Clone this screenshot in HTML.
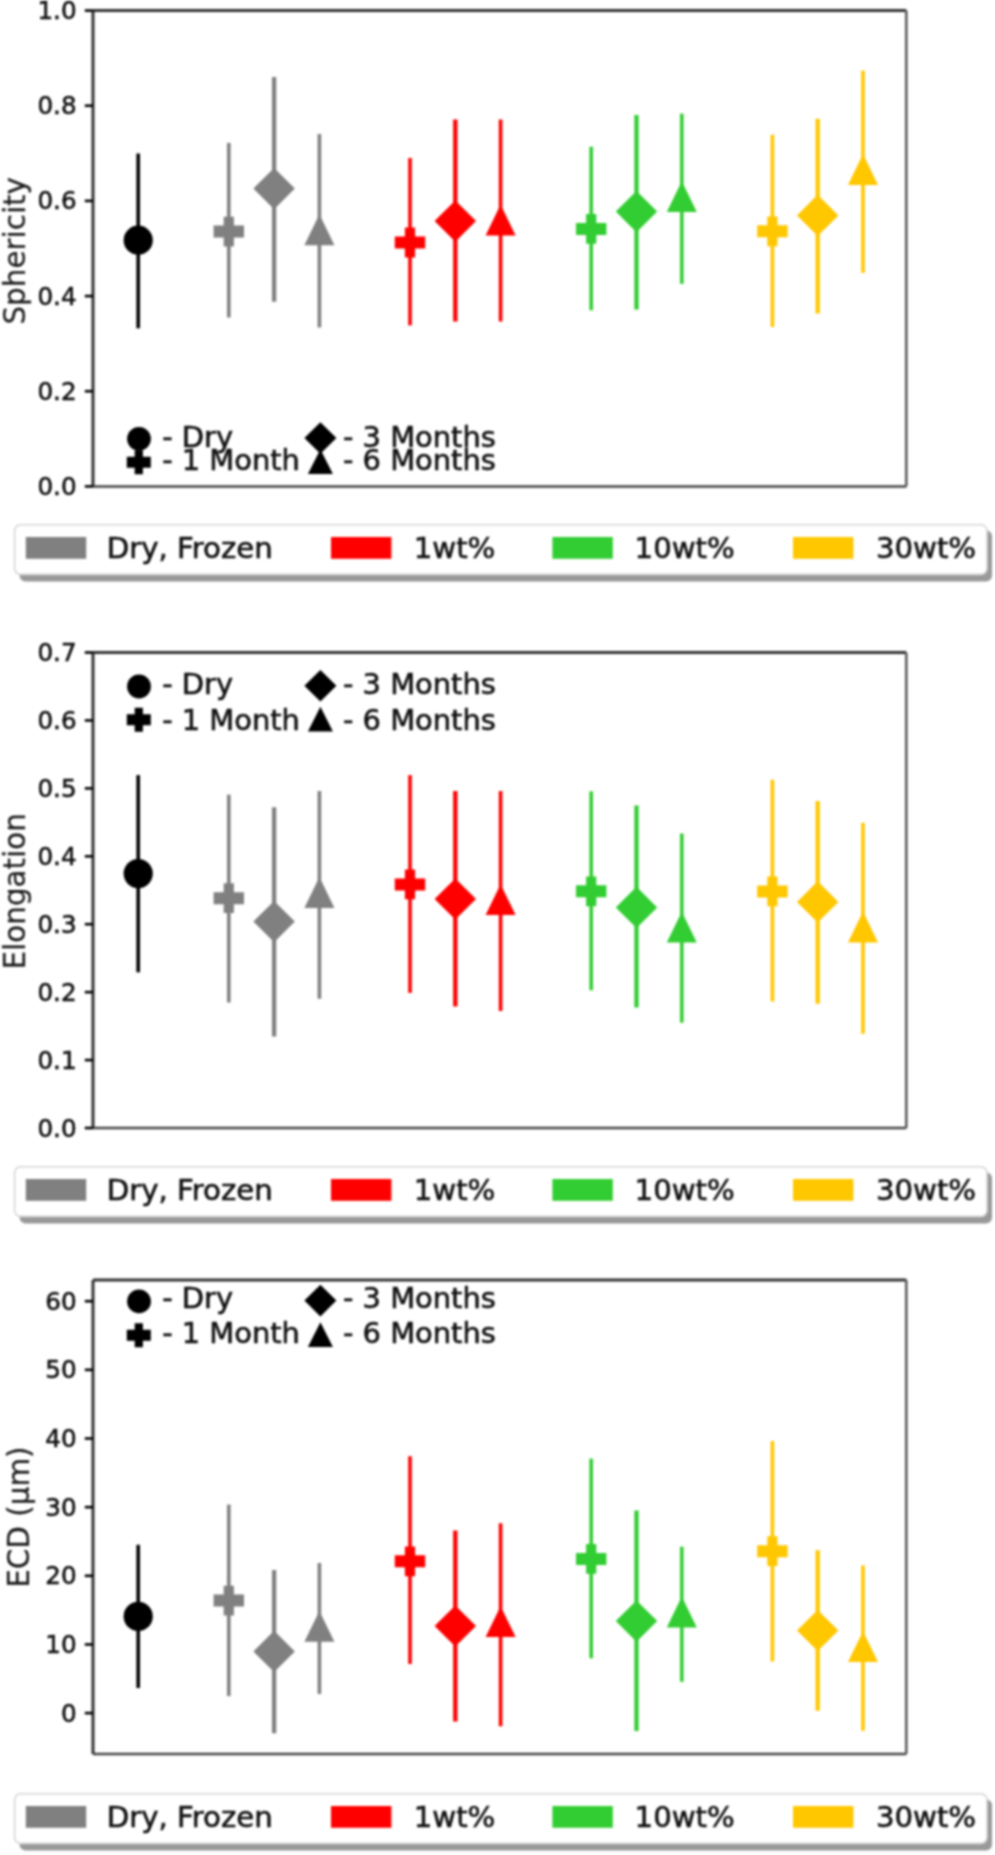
<!DOCTYPE html>
<html><head><meta charset="utf-8"><title>Particle shape metrics</title>
<style>
html,body{margin:0;padding:0;background:#fff;}
body{width:995px;height:1855px;overflow:hidden;}
svg{display:block;filter:blur(1px);}
text{font-family:"DejaVu Sans","Liberation Sans",sans-serif;fill:#111;stroke:#111;stroke-width:0.6px;}
.tk{font-size:24.6px;text-anchor:end;}
.yl{font-size:29.4px;text-anchor:middle;}
.lg{font-size:29.2px;}
.ml{font-size:28.9px;}
.yl{stroke-width:0.2px;fill:#1a1a1a;stroke:#1a1a1a;}
</style></head>
<body>
<svg width="995" height="1855" viewBox="0 0 995 1855">
<rect width="995" height="1855" fill="#fff"/>
<line x1="93.0" y1="10.5" x2="906.3" y2="10.5" stroke="#333" stroke-width="2.8"/>
<line x1="93.0" y1="486.4" x2="906.3" y2="486.4" stroke="#444" stroke-width="2.5"/>
<line x1="906.3" y1="10.5" x2="906.3" y2="486.4" stroke="#555" stroke-width="2.5"/>
<line x1="93.0" y1="10.5" x2="93.0" y2="486.4" stroke="#333" stroke-width="3.0"/>
<line x1="84.8" y1="486.40" x2="93.0" y2="486.40" stroke="#000" stroke-width="2.6"/>
<text x="76.6" y="495.00" class="tk">0.0</text>
<line x1="84.8" y1="391.23" x2="93.0" y2="391.23" stroke="#000" stroke-width="2.6"/>
<text x="76.6" y="399.83" class="tk">0.2</text>
<line x1="84.8" y1="296.06" x2="93.0" y2="296.06" stroke="#000" stroke-width="2.6"/>
<text x="76.6" y="304.66" class="tk">0.4</text>
<line x1="84.8" y1="200.89" x2="93.0" y2="200.89" stroke="#000" stroke-width="2.6"/>
<text x="76.6" y="209.49" class="tk">0.6</text>
<line x1="84.8" y1="105.72" x2="93.0" y2="105.72" stroke="#000" stroke-width="2.6"/>
<text x="76.6" y="114.32" class="tk">0.8</text>
<line x1="84.8" y1="10.55" x2="93.0" y2="10.55" stroke="#000" stroke-width="2.6"/>
<text x="76.6" y="19.15" class="tk">1.0</text>
<text transform="translate(24.5,250.8) rotate(-90)" class="yl">Sphericity</text>
<line x1="138.20" y1="153.50" x2="138.20" y2="328.30" stroke="#000000" stroke-width="3.6"/>
<line x1="228.80" y1="142.90" x2="228.80" y2="317.50" stroke="#808080" stroke-width="3.6"/>
<line x1="274.10" y1="77.00" x2="274.10" y2="301.70" stroke="#808080" stroke-width="4.3"/>
<line x1="319.40" y1="134.00" x2="319.40" y2="327.60" stroke="#808080" stroke-width="3.6"/>
<line x1="410.00" y1="158.00" x2="410.00" y2="325.40" stroke="#ff0000" stroke-width="3.6"/>
<line x1="455.30" y1="119.60" x2="455.30" y2="321.60" stroke="#ff0000" stroke-width="4.3"/>
<line x1="500.60" y1="119.60" x2="500.60" y2="321.60" stroke="#ff0000" stroke-width="3.6"/>
<line x1="591.20" y1="146.70" x2="591.20" y2="310.30" stroke="#32cd32" stroke-width="3.6"/>
<line x1="636.50" y1="115.10" x2="636.50" y2="309.60" stroke="#32cd32" stroke-width="4.3"/>
<line x1="681.80" y1="113.60" x2="681.80" y2="283.90" stroke="#32cd32" stroke-width="3.6"/>
<line x1="772.40" y1="134.70" x2="772.40" y2="327.10" stroke="#ffc700" stroke-width="3.6"/>
<line x1="817.70" y1="118.80" x2="817.70" y2="313.50" stroke="#ffc700" stroke-width="4.3"/>
<line x1="863.00" y1="70.60" x2="863.00" y2="272.80" stroke="#ffc700" stroke-width="3.6"/>
<circle cx="138.20" cy="240.20" r="14.60" fill="#000000"/>
<path d="M223.70,216.70L233.90,216.70L233.90,225.60L244.00,225.60L244.00,237.60L233.90,237.60L233.90,246.50L223.70,246.50L223.70,237.60L213.60,237.60L213.60,225.60L223.70,225.60Z" fill="#808080"/>
<path d="M253.40,188.60L274.10,168.00L294.80,188.60L274.10,209.20Z" fill="#808080"/>
<path d="M319.40,214.30L334.40,245.20L304.40,245.20Z" fill="#808080"/>
<path d="M404.90,227.60L415.10,227.60L415.10,236.50L425.20,236.50L425.20,248.50L415.10,248.50L415.10,257.40L404.90,257.40L404.90,248.50L394.80,248.50L394.80,236.50L404.90,236.50Z" fill="#ff0000"/>
<path d="M434.60,221.10L455.30,200.50L476.00,221.10L455.30,241.70Z" fill="#ff0000"/>
<path d="M500.60,204.60L515.60,235.50L485.60,235.50Z" fill="#ff0000"/>
<path d="M586.10,214.00L596.30,214.00L596.30,222.90L606.40,222.90L606.40,234.90L596.30,234.90L596.30,243.80L586.10,243.80L586.10,234.90L576.00,234.90L576.00,222.90L586.10,222.90Z" fill="#32cd32"/>
<path d="M615.80,211.60L636.50,191.00L657.20,211.60L636.50,232.20Z" fill="#32cd32"/>
<path d="M681.80,181.20L696.80,212.10L666.80,212.10Z" fill="#32cd32"/>
<path d="M767.30,216.40L777.50,216.40L777.50,225.30L787.60,225.30L787.60,237.30L777.50,237.30L777.50,246.20L767.30,246.20L767.30,237.30L757.20,237.30L757.20,225.30L767.30,225.30Z" fill="#ffc700"/>
<path d="M797.00,215.40L817.70,194.80L838.40,215.40L817.70,236.00Z" fill="#ffc700"/>
<path d="M863.00,154.10L878.00,185.00L848.00,185.00Z" fill="#ffc700"/>
<circle cx="139.00" cy="438.80" r="11.90" fill="#000000"/>
<path d="M134.70,450.20L142.90,450.20L142.90,456.70L150.80,456.70L150.80,467.70L142.90,467.70L142.90,474.20L134.70,474.20L134.70,467.70L126.80,467.70L126.80,456.70L134.70,456.70Z" fill="#000000"/>
<path d="M304.40,438.00L320.40,422.20L336.40,438.00L320.40,453.80Z" fill="#000000"/>
<path d="M320.40,449.20L332.90,474.00L307.90,474.00Z" fill="#000000"/>
<text x="162.2" y="446.5" class="ml">- Dry</text>
<text x="162.2" y="470.3" class="ml">- 1 Month</text>
<text x="343" y="446.5" class="ml">- 3 Months</text>
<text x="343" y="470.3" class="ml">- 6 Months</text>
<rect x="19.6" y="530.3" width="972.4" height="51.1" rx="6" fill="#999"/>
<rect x="14.6" y="524.8" width="972.4" height="49.6" rx="6" fill="#fff" stroke="#d6d6d6" stroke-width="1.6"/>
<rect x="25.8" y="537.0" width="60.4" height="21.8" fill="#808080"/>
<rect x="331.0" y="537.0" width="60.4" height="21.8" fill="#ff0000"/>
<rect x="552.4" y="537.0" width="60.4" height="21.8" fill="#32cd32"/>
<rect x="793.0" y="537.0" width="60.4" height="21.8" fill="#ffc700"/>
<text x="106.8" y="557.8" class="lg">Dry, Frozen</text>
<text x="413.7" y="557.8" class="lg">1wt%</text>
<text x="634.6" y="557.8" class="lg">10wt%</text>
<text x="875.9" y="557.8" class="lg">30wt%</text>
<line x1="93.0" y1="652.5" x2="906.3" y2="652.5" stroke="#333" stroke-width="2.8"/>
<line x1="93.0" y1="1128.0" x2="906.3" y2="1128.0" stroke="#444" stroke-width="2.5"/>
<line x1="906.3" y1="652.5" x2="906.3" y2="1128.0" stroke="#555" stroke-width="2.5"/>
<line x1="93.0" y1="652.5" x2="93.0" y2="1128.0" stroke="#333" stroke-width="3.0"/>
<line x1="84.8" y1="1128.00" x2="93.0" y2="1128.00" stroke="#000" stroke-width="2.6"/>
<text x="76.6" y="1136.60" class="tk">0.0</text>
<line x1="84.8" y1="1060.07" x2="93.0" y2="1060.07" stroke="#000" stroke-width="2.6"/>
<text x="76.6" y="1068.67" class="tk">0.1</text>
<line x1="84.8" y1="992.14" x2="93.0" y2="992.14" stroke="#000" stroke-width="2.6"/>
<text x="76.6" y="1000.74" class="tk">0.2</text>
<line x1="84.8" y1="924.21" x2="93.0" y2="924.21" stroke="#000" stroke-width="2.6"/>
<text x="76.6" y="932.81" class="tk">0.3</text>
<line x1="84.8" y1="856.28" x2="93.0" y2="856.28" stroke="#000" stroke-width="2.6"/>
<text x="76.6" y="864.88" class="tk">0.4</text>
<line x1="84.8" y1="788.35" x2="93.0" y2="788.35" stroke="#000" stroke-width="2.6"/>
<text x="76.6" y="796.95" class="tk">0.5</text>
<line x1="84.8" y1="720.42" x2="93.0" y2="720.42" stroke="#000" stroke-width="2.6"/>
<text x="76.6" y="729.02" class="tk">0.6</text>
<line x1="84.8" y1="652.49" x2="93.0" y2="652.49" stroke="#000" stroke-width="2.6"/>
<text x="76.6" y="661.09" class="tk">0.7</text>
<text transform="translate(24.5,891.3) rotate(-90)" class="yl">Elongation</text>
<line x1="138.20" y1="775.10" x2="138.20" y2="972.30" stroke="#000000" stroke-width="3.6"/>
<line x1="228.80" y1="794.70" x2="228.80" y2="1002.50" stroke="#808080" stroke-width="3.6"/>
<line x1="274.10" y1="807.20" x2="274.10" y2="1036.40" stroke="#808080" stroke-width="4.3"/>
<line x1="319.40" y1="790.90" x2="319.40" y2="998.70" stroke="#808080" stroke-width="3.6"/>
<line x1="410.00" y1="775.10" x2="410.00" y2="992.90" stroke="#ff0000" stroke-width="3.6"/>
<line x1="455.30" y1="790.90" x2="455.30" y2="1006.50" stroke="#ff0000" stroke-width="4.3"/>
<line x1="500.60" y1="790.90" x2="500.60" y2="1011.00" stroke="#ff0000" stroke-width="3.6"/>
<line x1="591.20" y1="791.30" x2="591.20" y2="990.30" stroke="#32cd32" stroke-width="3.6"/>
<line x1="636.50" y1="805.60" x2="636.50" y2="1007.60" stroke="#32cd32" stroke-width="4.3"/>
<line x1="681.80" y1="833.50" x2="681.80" y2="1022.70" stroke="#32cd32" stroke-width="3.6"/>
<line x1="772.40" y1="779.80" x2="772.40" y2="1001.40" stroke="#ffc700" stroke-width="3.6"/>
<line x1="817.70" y1="800.90" x2="817.70" y2="1003.70" stroke="#ffc700" stroke-width="4.3"/>
<line x1="863.00" y1="822.80" x2="863.00" y2="1033.80" stroke="#ffc700" stroke-width="3.6"/>
<circle cx="138.20" cy="873.60" r="14.60" fill="#000000"/>
<path d="M223.70,883.30L233.90,883.30L233.90,892.20L244.00,892.20L244.00,904.20L233.90,904.20L233.90,913.10L223.70,913.10L223.70,904.20L213.60,904.20L213.60,892.20L223.70,892.20Z" fill="#808080"/>
<path d="M253.40,921.60L274.10,901.00L294.80,921.60L274.10,942.20Z" fill="#808080"/>
<path d="M319.40,877.10L334.40,908.00L304.40,908.00Z" fill="#808080"/>
<path d="M404.90,869.50L415.10,869.50L415.10,878.40L425.20,878.40L425.20,890.40L415.10,890.40L415.10,899.30L404.90,899.30L404.90,890.40L394.80,890.40L394.80,878.40L404.90,878.40Z" fill="#ff0000"/>
<path d="M434.60,899.00L455.30,878.40L476.00,899.00L455.30,919.60Z" fill="#ff0000"/>
<path d="M500.60,884.20L515.60,915.10L485.60,915.10Z" fill="#ff0000"/>
<path d="M586.10,876.40L596.30,876.40L596.30,885.30L606.40,885.30L606.40,897.30L596.30,897.30L596.30,906.20L586.10,906.20L586.10,897.30L576.00,897.30L576.00,885.30L586.10,885.30Z" fill="#32cd32"/>
<path d="M615.80,907.40L636.50,886.80L657.20,907.40L636.50,928.00Z" fill="#32cd32"/>
<path d="M681.80,911.70L696.80,942.60L666.80,942.60Z" fill="#32cd32"/>
<path d="M767.30,876.50L777.50,876.50L777.50,885.40L787.60,885.40L787.60,897.40L777.50,897.40L777.50,906.30L767.30,906.30L767.30,897.40L757.20,897.40L757.20,885.40L767.30,885.40Z" fill="#ffc700"/>
<path d="M797.00,901.90L817.70,881.30L838.40,901.90L817.70,922.50Z" fill="#ffc700"/>
<path d="M863.00,911.50L878.00,942.40L848.00,942.40Z" fill="#ffc700"/>
<circle cx="139.00" cy="686.50" r="11.90" fill="#000000"/>
<path d="M134.70,707.70L142.90,707.70L142.90,714.20L150.80,714.20L150.80,725.20L142.90,725.20L142.90,731.70L134.70,731.70L134.70,725.20L126.80,725.20L126.80,714.20L134.70,714.20Z" fill="#000000"/>
<path d="M304.40,685.70L320.40,669.90L336.40,685.70L320.40,701.50Z" fill="#000000"/>
<path d="M320.40,706.70L332.90,731.50L307.90,731.50Z" fill="#000000"/>
<text x="162.2" y="693.5" class="ml">- Dry</text>
<text x="162.2" y="730.0" class="ml">- 1 Month</text>
<text x="343" y="693.5" class="ml">- 3 Months</text>
<text x="343" y="730.0" class="ml">- 6 Months</text>
<rect x="19.6" y="1172.3" width="972.4" height="51.1" rx="6" fill="#999"/>
<rect x="14.6" y="1166.8" width="972.4" height="49.6" rx="6" fill="#fff" stroke="#d6d6d6" stroke-width="1.6"/>
<rect x="25.8" y="1179.0" width="60.4" height="21.8" fill="#808080"/>
<rect x="331.0" y="1179.0" width="60.4" height="21.8" fill="#ff0000"/>
<rect x="552.4" y="1179.0" width="60.4" height="21.8" fill="#32cd32"/>
<rect x="793.0" y="1179.0" width="60.4" height="21.8" fill="#ffc700"/>
<text x="106.8" y="1199.8" class="lg">Dry, Frozen</text>
<text x="413.7" y="1199.8" class="lg">1wt%</text>
<text x="634.6" y="1199.8" class="lg">10wt%</text>
<text x="875.9" y="1199.8" class="lg">30wt%</text>
<line x1="93.0" y1="1280.0" x2="906.3" y2="1280.0" stroke="#333" stroke-width="2.8"/>
<line x1="93.0" y1="1754.1" x2="906.3" y2="1754.1" stroke="#444" stroke-width="2.5"/>
<line x1="906.3" y1="1280.0" x2="906.3" y2="1754.1" stroke="#555" stroke-width="2.5"/>
<line x1="93.0" y1="1280.0" x2="93.0" y2="1754.1" stroke="#333" stroke-width="3.0"/>
<line x1="84.8" y1="1713.10" x2="93.0" y2="1713.10" stroke="#000" stroke-width="2.6"/>
<text x="76.6" y="1721.70" class="tk">0</text>
<line x1="84.8" y1="1644.45" x2="93.0" y2="1644.45" stroke="#000" stroke-width="2.6"/>
<text x="76.6" y="1653.05" class="tk">10</text>
<line x1="84.8" y1="1575.80" x2="93.0" y2="1575.80" stroke="#000" stroke-width="2.6"/>
<text x="76.6" y="1584.40" class="tk">20</text>
<line x1="84.8" y1="1507.15" x2="93.0" y2="1507.15" stroke="#000" stroke-width="2.6"/>
<text x="76.6" y="1515.75" class="tk">30</text>
<line x1="84.8" y1="1438.50" x2="93.0" y2="1438.50" stroke="#000" stroke-width="2.6"/>
<text x="76.6" y="1447.10" class="tk">40</text>
<line x1="84.8" y1="1369.85" x2="93.0" y2="1369.85" stroke="#000" stroke-width="2.6"/>
<text x="76.6" y="1378.45" class="tk">50</text>
<line x1="84.8" y1="1301.20" x2="93.0" y2="1301.20" stroke="#000" stroke-width="2.6"/>
<text x="76.6" y="1309.80" class="tk">60</text>
<text transform="translate(28.6,1517.2) rotate(-90)" class="yl">ECD (μm)</text>
<line x1="138.20" y1="1544.80" x2="138.20" y2="1688.00" stroke="#000000" stroke-width="3.6"/>
<line x1="228.80" y1="1504.60" x2="228.80" y2="1696.10" stroke="#808080" stroke-width="3.6"/>
<line x1="274.10" y1="1570.00" x2="274.10" y2="1733.30" stroke="#808080" stroke-width="4.3"/>
<line x1="319.40" y1="1562.90" x2="319.40" y2="1694.00" stroke="#808080" stroke-width="3.6"/>
<line x1="410.00" y1="1456.20" x2="410.00" y2="1664.00" stroke="#ff0000" stroke-width="3.6"/>
<line x1="455.30" y1="1530.60" x2="455.30" y2="1721.40" stroke="#ff0000" stroke-width="4.3"/>
<line x1="500.60" y1="1523.30" x2="500.60" y2="1726.30" stroke="#ff0000" stroke-width="3.6"/>
<line x1="591.20" y1="1458.60" x2="591.20" y2="1658.30" stroke="#32cd32" stroke-width="3.6"/>
<line x1="636.50" y1="1510.40" x2="636.50" y2="1731.10" stroke="#32cd32" stroke-width="4.3"/>
<line x1="681.80" y1="1546.70" x2="681.80" y2="1681.80" stroke="#32cd32" stroke-width="3.6"/>
<line x1="772.40" y1="1440.90" x2="772.40" y2="1661.40" stroke="#ffc700" stroke-width="3.6"/>
<line x1="817.70" y1="1550.30" x2="817.70" y2="1710.70" stroke="#ffc700" stroke-width="4.3"/>
<line x1="863.00" y1="1565.40" x2="863.00" y2="1730.80" stroke="#ffc700" stroke-width="3.6"/>
<circle cx="138.20" cy="1616.40" r="14.60" fill="#000000"/>
<path d="M223.70,1585.70L233.90,1585.70L233.90,1594.60L244.00,1594.60L244.00,1606.60L233.90,1606.60L233.90,1615.50L223.70,1615.50L223.70,1606.60L213.60,1606.60L213.60,1594.60L223.70,1594.60Z" fill="#808080"/>
<path d="M253.40,1651.40L274.10,1630.80L294.80,1651.40L274.10,1672.00Z" fill="#808080"/>
<path d="M319.40,1610.90L334.40,1641.80L304.40,1641.80Z" fill="#808080"/>
<path d="M404.90,1546.40L415.10,1546.40L415.10,1555.30L425.20,1555.30L425.20,1567.30L415.10,1567.30L415.10,1576.20L404.90,1576.20L404.90,1567.30L394.80,1567.30L394.80,1555.30L404.90,1555.30Z" fill="#ff0000"/>
<path d="M434.60,1626.00L455.30,1605.40L476.00,1626.00L455.30,1646.60Z" fill="#ff0000"/>
<path d="M500.60,1606.20L515.60,1637.10L485.60,1637.10Z" fill="#ff0000"/>
<path d="M586.10,1544.00L596.30,1544.00L596.30,1552.90L606.40,1552.90L606.40,1564.90L596.30,1564.90L596.30,1573.80L586.10,1573.80L586.10,1564.90L576.00,1564.90L576.00,1552.90L586.10,1552.90Z" fill="#32cd32"/>
<path d="M615.80,1621.10L636.50,1600.50L657.20,1621.10L636.50,1641.70Z" fill="#32cd32"/>
<path d="M681.80,1596.50L696.80,1627.40L666.80,1627.40Z" fill="#32cd32"/>
<path d="M767.30,1536.30L777.50,1536.30L777.50,1545.20L787.60,1545.20L787.60,1557.20L777.50,1557.20L777.50,1566.10L767.30,1566.10L767.30,1557.20L757.20,1557.20L757.20,1545.20L767.30,1545.20Z" fill="#ffc700"/>
<path d="M797.00,1630.50L817.70,1609.90L838.40,1630.50L817.70,1651.10Z" fill="#ffc700"/>
<path d="M863.00,1631.20L878.00,1662.10L848.00,1662.10Z" fill="#ffc700"/>
<circle cx="139.00" cy="1301.40" r="11.90" fill="#000000"/>
<path d="M134.70,1323.30L142.90,1323.30L142.90,1329.80L150.80,1329.80L150.80,1340.80L142.90,1340.80L142.90,1347.30L134.70,1347.30L134.70,1340.80L126.80,1340.80L126.80,1329.80L134.70,1329.80Z" fill="#000000"/>
<path d="M304.40,1300.60L320.40,1284.80L336.40,1300.60L320.40,1316.40Z" fill="#000000"/>
<path d="M320.40,1322.30L332.90,1347.10L307.90,1347.10Z" fill="#000000"/>
<text x="162.2" y="1307.5" class="ml">- Dry</text>
<text x="162.2" y="1342.5" class="ml">- 1 Month</text>
<text x="343" y="1307.5" class="ml">- 3 Months</text>
<text x="343" y="1342.5" class="ml">- 6 Months</text>
<rect x="19.6" y="1799.3" width="972.4" height="51.1" rx="6" fill="#999"/>
<rect x="14.6" y="1793.8" width="972.4" height="49.6" rx="6" fill="#fff" stroke="#d6d6d6" stroke-width="1.6"/>
<rect x="25.8" y="1806.0" width="60.4" height="21.8" fill="#808080"/>
<rect x="331.0" y="1806.0" width="60.4" height="21.8" fill="#ff0000"/>
<rect x="552.4" y="1806.0" width="60.4" height="21.8" fill="#32cd32"/>
<rect x="793.0" y="1806.0" width="60.4" height="21.8" fill="#ffc700"/>
<text x="106.8" y="1826.8" class="lg">Dry, Frozen</text>
<text x="413.7" y="1826.8" class="lg">1wt%</text>
<text x="634.6" y="1826.8" class="lg">10wt%</text>
<text x="875.9" y="1826.8" class="lg">30wt%</text>
</svg>
</body></html>
